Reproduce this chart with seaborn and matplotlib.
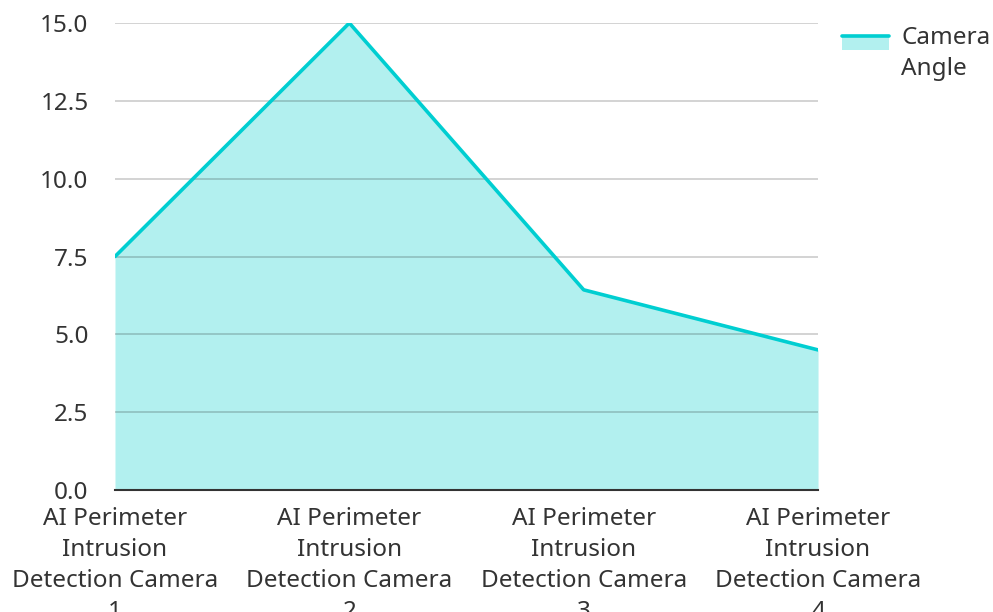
import numpy as np
import pandas as pd
import matplotlib
matplotlib.use("Agg")
import matplotlib.pyplot as plt
import seaborn as sns
from matplotlib.legend_handler import HandlerBase
from matplotlib.patches import Rectangle
from matplotlib.lines import Line2D

# data
cameras = ["AI Perimeter\nIntrusion\nDetection Camera\n1",
           "AI Perimeter\nIntrusion\nDetection Camera\n2",
           "AI Perimeter\nIntrusion\nDetection Camera\n3",
           "AI Perimeter\nIntrusion\nDetection Camera\n4"]
angle = [7.5, 15.0, 6.43, 4.5]
y_ticks = [0.0, 2.5, 5.0, 7.5, 10.0, 12.5, 15.0]

line_col = "#00CED1"
fill_col = "#B2F0EF"
text_col = "#333333"
fs = 17.5

sns.set_theme(style="white")
plt.rcParams['font.family'] = ['Noto Sans', 'DejaVu Sans']
plt.rcParams['text.color'] = text_col
plt.rcParams['xtick.color'] = text_col
plt.rcParams['ytick.color'] = text_col


class AreaHandler(HandlerBase):
    # fill patch with the line drawn along its top edge, lifted to the first text line
    def create_artists(self, legend, orig_handle, xdescent, ydescent,
                       width, height, fontsize, trans):
        lift = 7.0
        rect_h = 10.0
        top = -ydescent + height + lift
        rect = Rectangle((-xdescent, top - rect_h), width, rect_h,
                         facecolor=fill_col, edgecolor="none", transform=trans)
        ln = Line2D([-xdescent, -xdescent + width], [top, top],
                    color=line_col, lw=2.6, transform=trans)
        return [rect, ln]


df = pd.DataFrame({"x": np.arange(len(cameras)), "angle": angle})

fig = plt.figure(figsize=(9.93, 6.12), dpi=100)
ax = fig.add_axes([0.1158, 0.1993, 0.7080, 0.7631])

ax.fill_between(df["x"], df["angle"], 0, color=fill_col, lw=0, zorder=1)
sns.lineplot(data=df, x="x", y="angle", color=line_col, lw=2.6, ax=ax, zorder=3)

ax.set_xlim(0, 3)
ax.set_ylim(0, 15)
ax.set_yticks(y_ticks)
ax.set_yticklabels([f"{v:.1f}" for v in y_ticks])
ax.set_xticks(df["x"])
ax.set_xticklabels(cameras, linespacing=1.39)
ax.tick_params(axis="both", length=0, labelsize=fs)
ax.tick_params(axis="y", pad=19)
ax.tick_params(axis="x", pad=12.5)
ax.set_xlabel("")
ax.set_ylabel("")

ax.set_axisbelow(False)
ax.yaxis.grid(True, color="black", alpha=0.2, lw=1.2, zorder=2)
ax.xaxis.grid(False)
for s in ["top", "right", "left"]:
    ax.spines[s].set_visible(False)
ax.spines["bottom"].set_color(text_col)
ax.spines["bottom"].set_linewidth(1.5)
ax.spines["bottom"].set_zorder(4)

leg = fig.legend([object()], ["Camera\nAngle"], handler_map={object: AreaHandler()},
                 loc="upper left", bbox_to_anchor=(0.848, 0.957), frameon=False,
                 fontsize=fs, handlelength=1.93, handletextpad=0.5,
                 borderaxespad=0, borderpad=0, labelspacing=0)
leg.get_texts()[0].set_linespacing(1.39)

fig.savefig("out.png", dpi=100)
